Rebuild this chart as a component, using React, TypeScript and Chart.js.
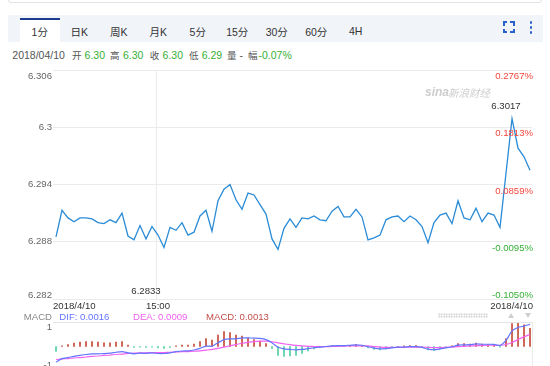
import React, { useEffect, useRef } from 'react';
import { Chart, registerables } from 'chart.js';

Chart.register(...registerables);

// ---------- data ----------
const tabs = ['1分', '日K', '周K', '月K', '5分', '15分', '30分', '60分', '4H'];
const quoteDate = '2018/04/10';
const quoteOpen = '6.30';
const quoteHigh = '6.30';
const quoteClose = '6.30';
const quoteLow = '6.29';
const quoteVol = '-';
const quoteChg = '-0.07%';

const priceTicks = [6.282, 6.288, 6.294, 6.3, 6.306];
const priceTickLabels = ['6.282', '6.288', '6.294', '6.3', '6.306'];
const pctTickLabels = ['-0.1050%', '-0.0095%', '0.0859%', '0.1813%', '0.2767%'];
const xLabels = ['2018/4/10', '15:00', '2018/4/10'];
const timeTickIdx = 16.83;

const price = [
  6.2885, 6.2913, 6.2905, 6.2901, 6.2905, 6.2905, 6.2904, 6.29, 6.2899, 6.2903,
  6.29, 6.291, 6.2886, 6.2882, 6.2897, 6.2883, 6.2896, 6.2887, 6.2874, 6.2895,
  6.2892, 6.29, 6.2887, 6.289, 6.2907, 6.2913, 6.2891, 6.2923, 6.2935, 6.294,
  6.2924, 6.2914, 6.2931, 6.2929, 6.2919, 6.2909, 6.2883, 6.2872, 6.2894, 6.2904,
  6.2895, 6.2905, 6.2904, 6.2907, 6.2903, 6.2902, 6.2912, 6.2917, 6.2906, 6.2906,
  6.2914, 6.2906, 6.2882, 6.2884, 6.2887, 6.2903, 6.2906, 6.2907, 6.2901, 6.2907,
  6.2903, 6.2896, 6.2879, 6.29, 6.2908, 6.291, 6.2899, 6.2923, 6.2905, 6.2903,
  6.2915, 6.2901, 6.291, 6.2908, 6.2895, 6.2952, 6.3009, 6.2978, 6.2969, 6.2955,
];

const hiLabel = '6.3017';
const hiValue = 6.3017;
const hiIdx = 75;
const loLabel = '6.2833';
const loValue = 6.2833;
const loIdx = 15;

// MACD values in thousandths (axis shows 1 / -1)
const dif = [
  -1.11, -0.87, -0.79, -0.7, -0.63, -0.57, -0.53, -0.52, -0.51, -0.48,
  -0.41, -0.36, -0.45, -0.52, -0.48, -0.49, -0.46, -0.5, -0.5, -0.45,
  -0.37, -0.32, -0.31, -0.25, -0.13, 0.03, 0.02, 0.27, 0.49, 0.55,
  0.55, 0.61, 0.61, 0.6, 0.58, 0.49, 0.27, -0.06, -0.17, -0.21,
  -0.24, -0.21, -0.15, -0.09, -0.05, 0, 0.04, 0.06, 0.06, 0.09,
  0.12, 0.09, -0.02, -0.11, -0.17, -0.15, -0.1, -0.05, -0.04, -0.01,
  -0.01, -0.06, -0.19, -0.23, -0.17, -0.1, -0.02, 0.1, 0.12, 0.13,
  0.19, 0.16, 0.16, 0.15, 0.07, 0.43, 1.11, 1.36, 1.46, 1.58,
];
const dea = [
  -0.93, -0.89, -0.86, -0.82, -0.79, -0.75, -0.71, -0.68, -0.64, -0.61,
  -0.57, -0.54, -0.5, -0.48, -0.46, -0.45, -0.44, -0.44, -0.43, -0.41,
  -0.39, -0.37, -0.36, -0.34, -0.31, -0.26, -0.21, -0.14, -0.05, 0.05,
  0.14, 0.23, 0.3, 0.35, 0.38, 0.38, 0.34, 0.26, 0.19, 0.13,
  0.08, 0.04, 0.01, 0, -0.01, -0.01, 0, 0.01, 0.03, 0.04,
  0.05, 0.05, 0.04, 0, -0.04, -0.06, -0.06, -0.06, -0.06, -0.04,
  -0.04, -0.04, -0.06, -0.08, -0.08, -0.06, -0.04, -0.01, 0.01, 0.04,
  0.06, 0.07, 0.09, 0.09, 0.09, 0.14, 0.29, 0.5, 0.69, 0.87,
];
const macdHist = [
  -0.36, 0.04, 0.14, 0.24, 0.31, 0.36, 0.36, 0.31, 0.26, 0.26,
  0.31, 0.36, 0.11, -0.07, -0.04, -0.07, -0.04, -0.11, -0.14, -0.07,
  0.04, 0.11, 0.11, 0.18, 0.36, 0.57, 0.46, 0.82, 1.07, 1.0,
  0.82, 0.75, 0.61, 0.5, 0.39, 0.21, -0.14, -0.64, -0.71, -0.68,
  -0.64, -0.5, -0.32, -0.18, -0.07, 0.02, 0.07, 0.09, 0.06, 0.09,
  0.14, 0.07, -0.11, -0.21, -0.25, -0.18, -0.07, 0.02, 0.04, 0.07,
  0.06, -0.04, -0.25, -0.29, -0.18, -0.07, 0.04, 0.21, 0.21, 0.18,
  0.25, 0.18, 0.14, 0.11, -0.04, 0.57, 1.64, 1.71, 1.54, 1.29,
];
const macdTicks = [1, -1];
const difLabel = 'DIF: 0.0016';
const deaLabel = 'DEA: 0.0009';
const macdLabel = 'MACD: 0.0013';

// ---------- styles ----------
const FONT = '"Liberation Sans", Arial, "Noto Sans CJK SC", sans-serif';
const AXIS_FONT = '9.6px "Liberation Sans", Arial, sans-serif';
const RED = '#f0473c';
const GREEN = '#35b034';
const LINE_BLUE = '#2a8bd6';
const DIF_COLOR = '#6474ff';
const DEA_COLOR = '#f062f0';
const BAR_RED = '#c44a36';
const BAR_GREEN = '#4fd0a0';
const GRID = '#ebebeb';
const X_MIN = -0.5;
const X_MAX = 79.33;

const mainPlugin = {
  id: 'mainLabels',
  beforeDatasetsDraw(chart: any) {
    const { ctx, chartArea } = chart;
    ctx.save();
    ctx.fillStyle = '#cdcdcd';
    ctx.textBaseline = 'middle';
    ctx.textAlign = 'left';
    ctx.font = 'italic bold 12px "Liberation Sans", Arial, sans-serif';
    ctx.fillText('sina', chartArea.right - 107, chartArea.top + 23);
    ctx.font = 'italic 10.5px "Noto Sans CJK SC", sans-serif';
    ctx.fillText('新浪财经', chartArea.right - 84, chartArea.top + 23);
    ctx.restore();
  },
  afterDraw(chart: any) {
    const { ctx, chartArea, scales } = chart;
    const { left, right, top, bottom } = chartArea;
    const xs = scales.x;
    const ys = scales.y;
    ctx.save();
    ctx.font = AXIS_FONT;
    ctx.textBaseline = 'middle';
    priceTicks.forEach((v, i) => {
      const py = ys.getPixelForValue(v);
      ctx.textAlign = 'right';
      ctx.fillStyle = '#666';
      ctx.fillText(priceTickLabels[i], left - 1, Math.min(Math.max(py, top + 6), bottom - 4));
      ctx.fillStyle = pctTickLabels[i].startsWith('-') ? GREEN : RED;
      ctx.fillText(pctTickLabels[i], right + 1, Math.min(py + 6.5, bottom - 4));
    });
    ctx.fillStyle = '#333';
    const ly = bottom + 7;
    ctx.textAlign = 'left';
    ctx.fillText(xLabels[0], left, ly);
    ctx.textAlign = 'center';
    ctx.fillText(xLabels[1], xs.getPixelForValue(timeTickIdx) + 1, ly);
    ctx.textAlign = 'right';
    ctx.fillText(xLabels[2], right + 1, ly);

    ctx.textAlign = 'center';
    ctx.textBaseline = 'bottom';
    ctx.fillText(hiLabel, xs.getPixelForValue(hiIdx), ys.getPixelForValue(hiValue));
    ctx.textBaseline = 'top';
    ctx.fillText(loLabel, xs.getPixelForValue(loIdx), ys.getPixelForValue(loValue));
    ctx.restore();
  },
};

const macdPlugin = {
  id: 'macdLabels',
  afterDraw(chart: any) {
    const { ctx, chartArea, scales } = chart;
    const { left, right, top } = chartArea;
    ctx.save();
    ctx.strokeStyle = '#e4e4e4';
    ctx.lineWidth = 1;
    ctx.beginPath();
    ctx.moveTo(left, top + 0.5);
    ctx.lineTo(right, top + 0.5);
    ctx.stroke();
    ctx.font = AXIS_FONT;
    ctx.fillStyle = '#666';
    ctx.textAlign = 'right';
    macdTicks.forEach((v) => {
      ctx.textBaseline = v > 0 ? 'bottom' : 'top';
      ctx.fillText(String(v), left - 1, scales.y.getPixelForValue(v));
    });
    ctx.restore();
  },
};

const xScale = () => ({
  type: 'linear' as const,
  min: X_MIN,
  max: X_MAX,
  offset: false,
  afterBuildTicks: (s: any) => {
    s.ticks = [{ value: timeTickIdx }];
  },
  afterFit: (s: any) => {
    s.height = 0;
  },
  grid: { color: GRID, drawTicks: false, lineWidth: 1 },
  border: { display: false },
  ticks: { display: false },
});

export default function App() {
  const mainRef = useRef<HTMLCanvasElement>(null);
  const macdRef = useRef<HTMLCanvasElement>(null);

  useEffect(() => {
    const c1 = new Chart(mainRef.current as HTMLCanvasElement, {
      type: 'line',
      data: {
        datasets: [
          {
            data: price.map((v, i) => ({ x: i, y: v })),
            borderColor: LINE_BLUE,
            borderWidth: 1.3,
            pointRadius: 0,
            tension: 0,
            fill: false,
          },
        ],
      },
      options: {
        animation: false,
        responsive: false,
        events: [],
        layout: { padding: { left: 53, right: 18, top: 8, bottom: 13 } },
        plugins: { legend: { display: false }, tooltip: { enabled: false } },
        scales: {
          x: xScale(),
          y: {
            type: 'linear',
            min: 6.282,
            max: 6.306,
            afterBuildTicks: (s: any) => {
              s.ticks = priceTicks.map((v) => ({ value: v }));
            },
            afterFit: (s: any) => {
              s.width = 0;
            },
            grid: { color: GRID, drawTicks: false },
            border: { display: false },
            ticks: { display: false },
          },
        },
      } as any,
      plugins: [mainPlugin],
    });

    const c2 = new Chart(macdRef.current as HTMLCanvasElement, {
      type: 'bar',
      data: {
        datasets: [
          {
            type: 'line',
            data: dif.map((v, i) => ({ x: i, y: v })),
            borderColor: DIF_COLOR,
            borderWidth: 1.2,
            pointRadius: 0,
            tension: 0.2,
            order: 0,
          },
          {
            type: 'line',
            data: dea.map((v, i) => ({ x: i, y: v })),
            borderColor: DEA_COLOR,
            borderWidth: 1.2,
            pointRadius: 0,
            tension: 0.2,
            order: 1,
          },
          {
            type: 'bar',
            data: macdHist.map((v, i) => ({ x: i, y: v })),
            backgroundColor: (c: any) => ((c.raw && c.raw.y) >= 0 ? BAR_RED : BAR_GREEN),
            barThickness: 1,
            order: 2,
          },
        ],
      } as any,
      options: {
        animation: false,
        responsive: false,
        events: [],
        layout: { padding: { left: 53, right: 18, top: 10, bottom: 0 } },
        plugins: { legend: { display: false }, tooltip: { enabled: false } },
        scales: {
          x: xScale(),
          y: {
            type: 'linear',
            min: -1.393,
            max: 1.75,
            afterFit: (s: any) => {
              s.width = 0;
            },
            grid: { display: false },
            border: { display: false },
            ticks: { display: false },
          },
        },
      } as any,
      plugins: [macdPlugin],
    });

    return () => {
      c1.destroy();
      c2.destroy();
    };
  }, []);

  const gray = '#555';
  const quoteItems: { t: string; x: number; c: string; s: number }[] = [
    { t: quoteDate, x: 12.3, c: gray, s: 10.5 },
    { t: '开', x: 72, c: gray, s: 9.5 },
    { t: quoteOpen, x: 84.6, c: GREEN, s: 10.5 },
    { t: '高', x: 110, c: gray, s: 9.5 },
    { t: quoteHigh, x: 123, c: GREEN, s: 10.5 },
    { t: '收', x: 149.7, c: gray, s: 9.5 },
    { t: quoteClose, x: 162.6, c: GREEN, s: 10.5 },
    { t: '低', x: 189, c: gray, s: 9.5 },
    { t: quoteLow, x: 201.7, c: GREEN, s: 10.5 },
    { t: '量', x: 227, c: gray, s: 9.5 },
    { t: quoteVol, x: 239.5, c: gray, s: 10.5 },
    { t: '幅', x: 248, c: gray, s: 9.5 },
    { t: quoteChg, x: 258.5, c: GREEN, s: 10.5 },
  ];

  const iconBlue = '#2a62c9';
  const corner = (extra: any) => ({
    position: 'absolute' as const,
    width: 4.5,
    height: 4.5,
    boxSizing: 'border-box' as const,
    borderColor: iconBlue,
    borderStyle: 'solid',
    borderWidth: 0,
    ...extra,
  });

  return (
    <div
      style={{
        position: 'fixed',
        left: 0,
        top: 0,
        width: 550,
        height: 366,
        overflow: 'hidden',
        background: '#fff',
        fontFamily: FONT,
      }}
    >
      {/* top box remnant */}
      <div
        style={{
          position: 'absolute',
          left: 8,
          top: -10,
          width: 534,
          height: 13,
          boxSizing: 'border-box',
          border: '1px solid #e3e3e3',
          borderRadius: 3,
        }}
      />
      {/* toolbar */}
      <div style={{ position: 'absolute', left: 8, top: 15, width: 535, height: 27, background: '#f1f4f9' }} />
      {tabs.map((t, i) => (
        <div
          key={t}
          style={{
            position: 'absolute',
            left: 20 + i * 39.5,
            top: 18,
            width: 39.5,
            height: 24,
            boxSizing: 'border-box',
            background: i === 0 ? '#fff' : 'transparent',
            borderTop: i === 0 ? '2px solid #1d3c8f' : '2px solid transparent',
            display: 'flex',
            alignItems: 'center',
            justifyContent: 'center',
            fontSize: 10.5,
            color: '#333',
          }}
        >
          {t}
        </div>
      ))}
      {/* fullscreen icon */}
      <div style={{ position: 'absolute', left: 502.5, top: 21, width: 12, height: 12 }}>
        <div style={corner({ left: 0, top: 0, borderLeftWidth: 2, borderTopWidth: 2 })} />
        <div style={corner({ right: 0, top: 0, borderRightWidth: 2, borderTopWidth: 2 })} />
        <div style={corner({ left: 0, bottom: 0, borderLeftWidth: 2, borderBottomWidth: 2 })} />
        <div style={corner({ right: 0, bottom: 0, borderRightWidth: 2, borderBottomWidth: 2 })} />
      </div>
      {[0, 1, 2].map((i) => (
        <div
          key={i}
          style={{
            position: 'absolute',
            left: 529.5,
            top: 21 + i * 5,
            width: 2.5,
            height: 2.5,
            borderRadius: 1,
            background: iconBlue,
          }}
        />
      ))}
      {/* quote line */}
      {quoteItems.map((q, i) => (
        <span
          key={i}
          style={{
            position: 'absolute',
            left: q.x,
            top: 49,
            height: 13,
            lineHeight: '13px',
            fontSize: q.s,
            color: q.c,
            whiteSpace: 'nowrap',
          }}
        >
          {q.t}
        </span>
      ))}

      <canvas
        ref={mainRef}
        width={550}
        height={250}
        style={{ position: 'absolute', left: 0, top: 62, width: 550, height: 250 }}
      />
      <canvas
        ref={macdRef}
        width={550}
        height={54}
        style={{ position: 'absolute', left: 0, top: 312, width: 550, height: 54 }}
      />

      {/* MACD legend */}
      <span
        style={{
          position: 'absolute',
          right: 498,
          top: 310.5,
          lineHeight: '11px',
          fontSize: 9.6,
          color: '#888',
        }}
      >
        MACD
      </span>
      <span style={{ position: 'absolute', left: 59.3, top: 310.5, lineHeight: '11px', fontSize: 9.6, color: DIF_COLOR, whiteSpace: 'nowrap' }}>
        {difLabel}
      </span>
      <span style={{ position: 'absolute', left: 133, top: 310.5, lineHeight: '11px', fontSize: 9.6, color: DEA_COLOR, whiteSpace: 'nowrap' }}>
        {deaLabel}
      </span>
      <span style={{ position: 'absolute', left: 206, top: 310.5, lineHeight: '11px', fontSize: 9.6, color: '#c0504d', whiteSpace: 'nowrap' }}>
        {macdLabel}
      </span>

      {/* navigator handle */}
      <div
        style={{
          position: 'absolute',
          left: 438,
          top: 313,
          width: 50,
          height: 5,
          backgroundImage: 'radial-gradient(circle, #c8c8c8 0.7px, transparent 1px)',
          backgroundSize: '2.5px 2.5px',
        }}
      />
      <div
        style={{
          position: 'absolute',
          left: 508,
          top: 313,
          width: 0,
          height: 0,
          borderLeft: '3px solid transparent',
          borderRight: '3px solid transparent',
          borderBottom: '5px solid #cfcfcf',
        }}
      />
      <div
        style={{
          position: 'absolute',
          left: 525,
          top: 313,
          width: 0,
          height: 0,
          borderLeft: '3px solid transparent',
          borderRight: '3px solid transparent',
          borderTop: '5px solid #cfcfcf',
        }}
      />
    </div>
  );
}
